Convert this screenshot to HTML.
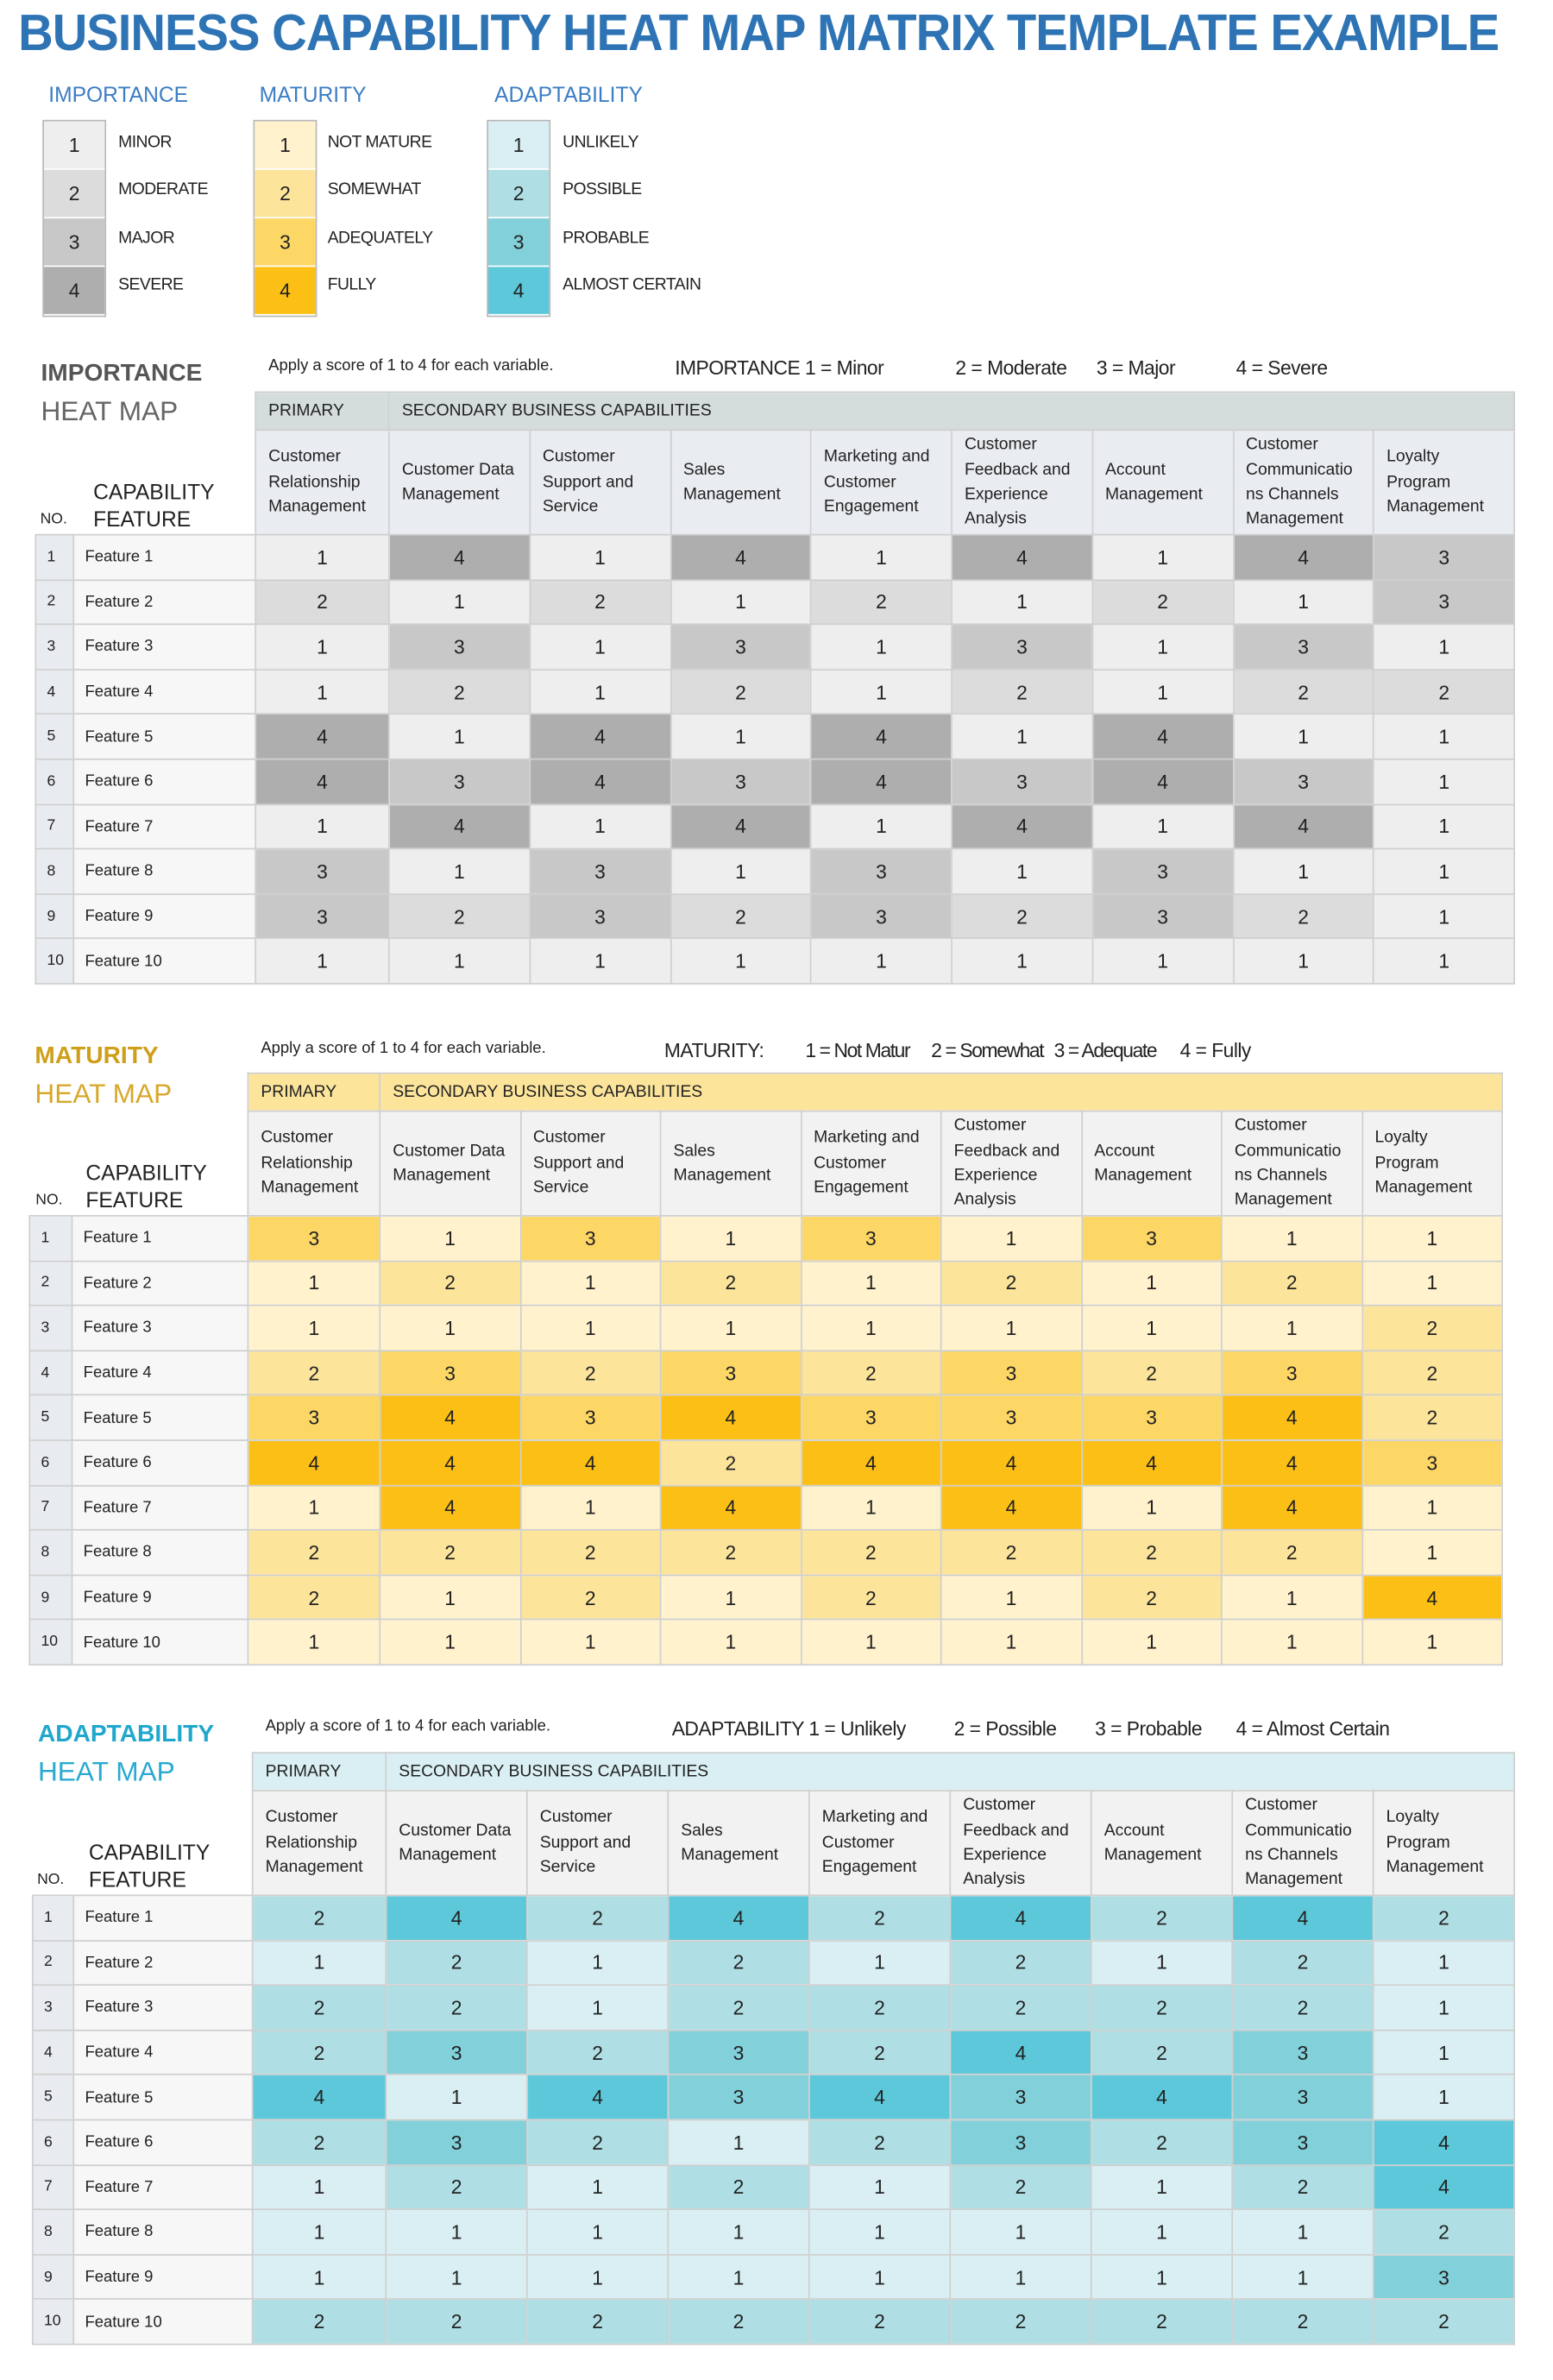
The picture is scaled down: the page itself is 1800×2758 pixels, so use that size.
<!DOCTYPE html>
<html><head><meta charset="utf-8"><style>
html,body{margin:0;padding:0;background:#fff;}
body{width:1800px;height:2757px;overflow:hidden;position:relative;}
#w{position:absolute;left:0;top:0;width:1024px;height:1569px;transform:scale(1.7578125);transform-origin:0 0;font-family:"Liberation Sans",sans-serif;color:#222;}
.a{position:absolute;white-space:nowrap;z-index:2;}
.title{left:12px;top:4px;font-size:33.5px;font-weight:bold;color:#2e74b5;letter-spacing:-0.6px;transform:scaleX(0.955);transform-origin:0 0;}
.lh{font-size:14px;top:54px;}
.lg{position:absolute;width:40px;border:1px solid #b8b8b8;}
.lg div{height:31px;line-height:31px;text-align:center;font-size:13px;border-bottom:1px solid #fff;}
.ll{font-size:11px;letter-spacing:-0.3px;}
table{position:absolute;border-collapse:collapse;table-layout:fixed;z-index:1;}
td{border:1px solid #cfcfcf;padding:0;overflow:hidden;white-space:nowrap;}
td.e{border:none;background:transparent;}
.h1 td{height:24px;font-size:11px;padding-left:8px;}
.h2 td.hd{height:68px;font-size:11px;line-height:16.4px;padding-left:8px;vertical-align:middle;}
.h2 td.nl{border:none;border-bottom:1px solid #cfcfcf;vertical-align:bottom;font-size:14px;line-height:18px;background:transparent;}
tr.r td{height:28.6px;text-align:center;font-size:13px;}
tr.r td.n{text-align:left;padding-left:7px;font-size:10px;background:#e8ebef;}
tr.r td.f{text-align:left;padding-left:7px;font-size:10.5px;background:#f7f7f8;}
.g1{background:#eeeeee}.g2{background:#dcdcdc}.g3{background:#c8c8c8}.g4{background:#aeaeae}
.y1{background:#fff2cc}.y2{background:#fce49b}.y3{background:#fdd766}.y4{background:#fbbf16}
.c1{background:#d9eff3}.c2{background:#afdfe4}.c3{background:#82d0da}.c4{background:#5dc8d9}
.sec{font-size:16px;font-weight:bold;}
.hm{font-size:18px;}
.ap{font-size:10.5px;}
.key{font-size:13px;letter-spacing:-0.3px;}
.ti .h1 td:not(.e){background:#d5dcdc}.ti .hd{background:#e9ecf0}
.tm .h1 td:not(.e){background:#fce59b}.tm .hd{background:#f2f2f2}
.ta .h1 td:not(.e){background:#d9eff3}.ta .hd{background:#f2f2f2}
</style></head><body><div id="w">
<div class="a title">BUSINESS CAPABILITY HEAT MAP MATRIX TEMPLATE EXAMPLE</div>

<div class="a lh" style="left:32px;color:#3b7dc4">IMPORTANCE</div>
<div class="a lh" style="left:171px;color:#3b7dc4">MATURITY</div>
<div class="a lh" style="left:326px;color:#3b7dc4">ADAPTABILITY</div>
<div class="lg" style="left:28px;top:79px"><div class="g1">1</div><div class="g2">2</div><div class="g3">3</div><div class="g4">4</div></div>
<div class="lg" style="left:167px;top:79px"><div class="y1">1</div><div class="y2">2</div><div class="y3">3</div><div class="y4">4</div></div>
<div class="lg" style="left:321px;top:79px"><div class="c1">1</div><div class="c2">2</div><div class="c3">3</div><div class="c4">4</div></div>
<div class="a ll" style="left:78px;top:88px">MINOR</div><div class="a ll" style="left:78px;top:119px">MODERATE</div><div class="a ll" style="left:78px;top:151px">MAJOR</div><div class="a ll" style="left:78px;top:182px">SEVERE</div>
<div class="a ll" style="left:216px;top:88px">NOT MATURE</div><div class="a ll" style="left:216px;top:119px">SOMEWHAT</div><div class="a ll" style="left:216px;top:151px">ADEQUATELY</div><div class="a ll" style="left:216px;top:182px">FULLY</div>
<div class="a ll" style="left:371px;top:88px">UNLIKELY</div><div class="a ll" style="left:371px;top:119px">POSSIBLE</div><div class="a ll" style="left:371px;top:151px">PROBABLE</div><div class="a ll" style="left:371px;top:182px">ALMOST CERTAIN</div>

<!-- IMPORTANCE -->
<div class="a sec" style="left:27px;top:238px;color:#555">IMPORTANCE</div>
<div class="a hm" style="left:27px;top:261px;color:#666">HEAT MAP</div>
<div class="a ap" style="left:177px;top:235px">Apply a score of 1 to 4 for each variable.</div>
<div class="a key" style="left:445px;top:235px">IMPORTANCE 1 = Minor</div><div class="a key" style="left:630px;top:235px">2 = Moderate</div><div class="a key" style="left:723px;top:235px">3 = Major</div><div class="a key" style="left:815px;top:235px">4 = Severe</div>
<table class="ti" style="left:23px;top:258px;width:975px">
<colgroup><col style="width:25px"><col style="width:120px"><col style="width:88px"><col span="8" style="width:92.75px"></colgroup>
<tr class="h1"><td class="e"></td><td class="e"></td><td>PRIMARY</td><td colspan="8">SECONDARY BUSINESS CAPABILITIES</td></tr>
<tr class="h2"><td class="nl" style="font-size:10px;padding-left:3px">NO.</td><td class="nl" style="padding-left:13px;padding-bottom:1px">CAPABILITY<br>FEATURE</td><td class="hd">Customer<br>Relationship<br>Management</td><td class="hd">Customer Data<br>Management</td><td class="hd">Customer<br>Support and<br>Service</td><td class="hd">Sales<br>Management</td><td class="hd">Marketing and<br>Customer<br>Engagement</td><td class="hd">Customer<br>Feedback and<br>Experience<br>Analysis</td><td class="hd">Account<br>Management</td><td class="hd">Customer<br>Communicatio<br>ns Channels<br>Management</td><td class="hd">Loyalty<br>Program<br>Management</td></tr>
<tr class="r"><td class="n">1</td><td class="f">Feature 1</td><td class="g1">1</td><td class="g4">4</td><td class="g1">1</td><td class="g4">4</td><td class="g1">1</td><td class="g4">4</td><td class="g1">1</td><td class="g4">4</td><td class="g3">3</td></tr>
<tr class="r"><td class="n">2</td><td class="f">Feature 2</td><td class="g2">2</td><td class="g1">1</td><td class="g2">2</td><td class="g1">1</td><td class="g2">2</td><td class="g1">1</td><td class="g2">2</td><td class="g1">1</td><td class="g3">3</td></tr>
<tr class="r"><td class="n">3</td><td class="f">Feature 3</td><td class="g1">1</td><td class="g3">3</td><td class="g1">1</td><td class="g3">3</td><td class="g1">1</td><td class="g3">3</td><td class="g1">1</td><td class="g3">3</td><td class="g1">1</td></tr>
<tr class="r"><td class="n">4</td><td class="f">Feature 4</td><td class="g1">1</td><td class="g2">2</td><td class="g1">1</td><td class="g2">2</td><td class="g1">1</td><td class="g2">2</td><td class="g1">1</td><td class="g2">2</td><td class="g2">2</td></tr>
<tr class="r"><td class="n">5</td><td class="f">Feature 5</td><td class="g4">4</td><td class="g1">1</td><td class="g4">4</td><td class="g1">1</td><td class="g4">4</td><td class="g1">1</td><td class="g4">4</td><td class="g1">1</td><td class="g1">1</td></tr>
<tr class="r"><td class="n">6</td><td class="f">Feature 6</td><td class="g4">4</td><td class="g3">3</td><td class="g4">4</td><td class="g3">3</td><td class="g4">4</td><td class="g3">3</td><td class="g4">4</td><td class="g3">3</td><td class="g1">1</td></tr>
<tr class="r"><td class="n">7</td><td class="f">Feature 7</td><td class="g1">1</td><td class="g4">4</td><td class="g1">1</td><td class="g4">4</td><td class="g1">1</td><td class="g4">4</td><td class="g1">1</td><td class="g4">4</td><td class="g1">1</td></tr>
<tr class="r"><td class="n">8</td><td class="f">Feature 8</td><td class="g3">3</td><td class="g1">1</td><td class="g3">3</td><td class="g1">1</td><td class="g3">3</td><td class="g1">1</td><td class="g3">3</td><td class="g1">1</td><td class="g1">1</td></tr>
<tr class="r"><td class="n">9</td><td class="f">Feature 9</td><td class="g3">3</td><td class="g2">2</td><td class="g3">3</td><td class="g2">2</td><td class="g3">3</td><td class="g2">2</td><td class="g3">3</td><td class="g2">2</td><td class="g1">1</td></tr>
<tr class="r"><td class="n">10</td><td class="f">Feature 10</td><td class="g1">1</td><td class="g1">1</td><td class="g1">1</td><td class="g1">1</td><td class="g1">1</td><td class="g1">1</td><td class="g1">1</td><td class="g1">1</td><td class="g1">1</td></tr>
</table>

<!-- MATURITY -->
<div class="a sec" style="left:23px;top:688px;color:#cf9f1a">MATURITY</div>
<div class="a hm" style="left:23px;top:711px;color:#d8a82a">HEAT MAP</div>
<div class="a ap" style="left:172px;top:685px">Apply a score of 1 to 4 for each variable.</div>
<div class="a key" style="left:438px;top:685px">MATURITY:</div><div class="a key" style="left:531px;top:685px;letter-spacing:-0.8px">1 = Not Matur</div><div class="a key" style="left:614px;top:685px;letter-spacing:-0.8px">2 = Somewhat</div><div class="a key" style="left:695px;top:685px;letter-spacing:-0.8px">3 = Adequate</div><div class="a key" style="left:778px;top:685px">4 = Fully</div>
<table class="tm" style="left:19px;top:707px;width:971px">
<colgroup><col style="width:28px"><col style="width:116px"><col style="width:87px"><col span="8" style="width:92.5px"></colgroup>
<tr class="h1"><td class="e"></td><td class="e"></td><td>PRIMARY</td><td colspan="8">SECONDARY BUSINESS CAPABILITIES</td></tr>
<tr class="h2"><td class="nl" style="font-size:10px;padding-left:4px">NO.</td><td class="nl" style="padding-left:9px;padding-bottom:1px">CAPABILITY<br>FEATURE</td><td class="hd">Customer<br>Relationship<br>Management</td><td class="hd">Customer Data<br>Management</td><td class="hd">Customer<br>Support and<br>Service</td><td class="hd">Sales<br>Management</td><td class="hd">Marketing and<br>Customer<br>Engagement</td><td class="hd">Customer<br>Feedback and<br>Experience<br>Analysis</td><td class="hd">Account<br>Management</td><td class="hd">Customer<br>Communicatio<br>ns Channels<br>Management</td><td class="hd">Loyalty<br>Program<br>Management</td></tr>
<tr class="r"><td class="n">1</td><td class="f">Feature 1</td><td class="y3">3</td><td class="y1">1</td><td class="y3">3</td><td class="y1">1</td><td class="y3">3</td><td class="y1">1</td><td class="y3">3</td><td class="y1">1</td><td class="y1">1</td></tr>
<tr class="r"><td class="n">2</td><td class="f">Feature 2</td><td class="y1">1</td><td class="y2">2</td><td class="y1">1</td><td class="y2">2</td><td class="y1">1</td><td class="y2">2</td><td class="y1">1</td><td class="y2">2</td><td class="y1">1</td></tr>
<tr class="r"><td class="n">3</td><td class="f">Feature 3</td><td class="y1">1</td><td class="y1">1</td><td class="y1">1</td><td class="y1">1</td><td class="y1">1</td><td class="y1">1</td><td class="y1">1</td><td class="y1">1</td><td class="y2">2</td></tr>
<tr class="r"><td class="n">4</td><td class="f">Feature 4</td><td class="y2">2</td><td class="y3">3</td><td class="y2">2</td><td class="y3">3</td><td class="y2">2</td><td class="y3">3</td><td class="y2">2</td><td class="y3">3</td><td class="y2">2</td></tr>
<tr class="r"><td class="n">5</td><td class="f">Feature 5</td><td class="y3">3</td><td class="y4">4</td><td class="y3">3</td><td class="y4">4</td><td class="y3">3</td><td class="y3">3</td><td class="y3">3</td><td class="y4">4</td><td class="y2">2</td></tr>
<tr class="r"><td class="n">6</td><td class="f">Feature 6</td><td class="y4">4</td><td class="y4">4</td><td class="y4">4</td><td class="y2">2</td><td class="y4">4</td><td class="y4">4</td><td class="y4">4</td><td class="y4">4</td><td class="y3">3</td></tr>
<tr class="r"><td class="n">7</td><td class="f">Feature 7</td><td class="y1">1</td><td class="y4">4</td><td class="y1">1</td><td class="y4">4</td><td class="y1">1</td><td class="y4">4</td><td class="y1">1</td><td class="y4">4</td><td class="y1">1</td></tr>
<tr class="r"><td class="n">8</td><td class="f">Feature 8</td><td class="y2">2</td><td class="y2">2</td><td class="y2">2</td><td class="y2">2</td><td class="y2">2</td><td class="y2">2</td><td class="y2">2</td><td class="y2">2</td><td class="y1">1</td></tr>
<tr class="r"><td class="n">9</td><td class="f">Feature 9</td><td class="y2">2</td><td class="y1">1</td><td class="y2">2</td><td class="y1">1</td><td class="y2">2</td><td class="y1">1</td><td class="y2">2</td><td class="y1">1</td><td class="y4">4</td></tr>
<tr class="r"><td class="n">10</td><td class="f">Feature 10</td><td class="y1">1</td><td class="y1">1</td><td class="y1">1</td><td class="y1">1</td><td class="y1">1</td><td class="y1">1</td><td class="y1">1</td><td class="y1">1</td><td class="y1">1</td></tr>
</table>

<!-- ADAPTABILITY -->
<div class="a sec" style="left:25px;top:1135px;color:#1fa8cc">ADAPTABILITY</div>
<div class="a hm" style="left:25px;top:1158px;color:#2aaad0">HEAT MAP</div>
<div class="a ap" style="left:175px;top:1132px">Apply a score of 1 to 4 for each variable.</div>
<div class="a key" style="left:443px;top:1132px">ADAPTABILITY 1 = Unlikely</div><div class="a key" style="left:629px;top:1132px">2 = Possible</div><div class="a key" style="left:722px;top:1132px">3 = Probable</div><div class="a key" style="left:815px;top:1132px">4 = Almost Certain</div>
<table class="ta" style="left:21px;top:1155px;width:977px">
<colgroup><col style="width:27px"><col style="width:118px"><col style="width:88px"><col span="8" style="width:93px"></colgroup>
<tr class="h1"><td class="e"></td><td class="e"></td><td>PRIMARY</td><td colspan="8">SECONDARY BUSINESS CAPABILITIES</td></tr>
<tr class="h2"><td class="nl" style="font-size:10px;padding-left:3px">NO.</td><td class="nl" style="padding-left:10px;padding-bottom:1px">CAPABILITY<br>FEATURE</td><td class="hd">Customer<br>Relationship<br>Management</td><td class="hd">Customer Data<br>Management</td><td class="hd">Customer<br>Support and<br>Service</td><td class="hd">Sales<br>Management</td><td class="hd">Marketing and<br>Customer<br>Engagement</td><td class="hd">Customer<br>Feedback and<br>Experience<br>Analysis</td><td class="hd">Account<br>Management</td><td class="hd">Customer<br>Communicatio<br>ns Channels<br>Management</td><td class="hd">Loyalty<br>Program<br>Management</td></tr>
<tr class="r"><td class="n">1</td><td class="f">Feature 1</td><td class="c2">2</td><td class="c4">4</td><td class="c2">2</td><td class="c4">4</td><td class="c2">2</td><td class="c4">4</td><td class="c2">2</td><td class="c4">4</td><td class="c2">2</td></tr>
<tr class="r"><td class="n">2</td><td class="f">Feature 2</td><td class="c1">1</td><td class="c2">2</td><td class="c1">1</td><td class="c2">2</td><td class="c1">1</td><td class="c2">2</td><td class="c1">1</td><td class="c2">2</td><td class="c1">1</td></tr>
<tr class="r"><td class="n">3</td><td class="f">Feature 3</td><td class="c2">2</td><td class="c2">2</td><td class="c1">1</td><td class="c2">2</td><td class="c2">2</td><td class="c2">2</td><td class="c2">2</td><td class="c2">2</td><td class="c1">1</td></tr>
<tr class="r"><td class="n">4</td><td class="f">Feature 4</td><td class="c2">2</td><td class="c3">3</td><td class="c2">2</td><td class="c3">3</td><td class="c2">2</td><td class="c4">4</td><td class="c2">2</td><td class="c3">3</td><td class="c1">1</td></tr>
<tr class="r"><td class="n">5</td><td class="f">Feature 5</td><td class="c4">4</td><td class="c1">1</td><td class="c4">4</td><td class="c3">3</td><td class="c4">4</td><td class="c3">3</td><td class="c4">4</td><td class="c3">3</td><td class="c1">1</td></tr>
<tr class="r"><td class="n">6</td><td class="f">Feature 6</td><td class="c2">2</td><td class="c3">3</td><td class="c2">2</td><td class="c1">1</td><td class="c2">2</td><td class="c3">3</td><td class="c2">2</td><td class="c3">3</td><td class="c4">4</td></tr>
<tr class="r"><td class="n">7</td><td class="f">Feature 7</td><td class="c1">1</td><td class="c2">2</td><td class="c1">1</td><td class="c2">2</td><td class="c1">1</td><td class="c2">2</td><td class="c1">1</td><td class="c2">2</td><td class="c4">4</td></tr>
<tr class="r"><td class="n">8</td><td class="f">Feature 8</td><td class="c1">1</td><td class="c1">1</td><td class="c1">1</td><td class="c1">1</td><td class="c1">1</td><td class="c1">1</td><td class="c1">1</td><td class="c1">1</td><td class="c2">2</td></tr>
<tr class="r"><td class="n">9</td><td class="f">Feature 9</td><td class="c1">1</td><td class="c1">1</td><td class="c1">1</td><td class="c1">1</td><td class="c1">1</td><td class="c1">1</td><td class="c1">1</td><td class="c1">1</td><td class="c3">3</td></tr>
<tr class="r"><td class="n">10</td><td class="f">Feature 10</td><td class="c2">2</td><td class="c2">2</td><td class="c2">2</td><td class="c2">2</td><td class="c2">2</td><td class="c2">2</td><td class="c2">2</td><td class="c2">2</td><td class="c2">2</td></tr>
</table>
</div></body></html>
